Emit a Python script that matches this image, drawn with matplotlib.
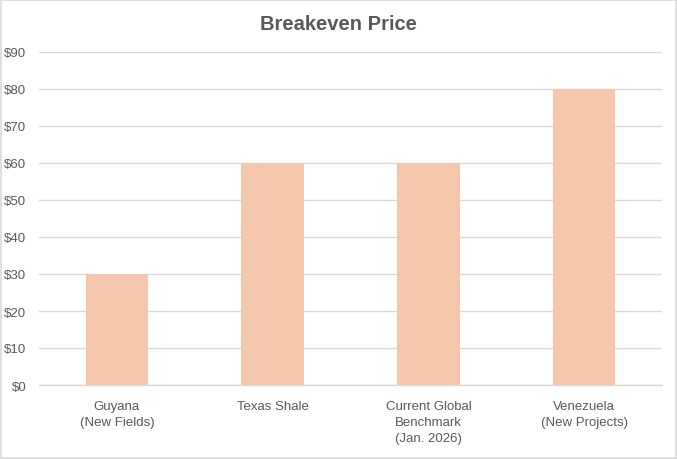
import numpy as np
import matplotlib.pyplot as plt
from matplotlib.patches import Rectangle

# chart data
categories = ['Guyana\n(New Fields)', 'Texas Shale', 'Current Global\nBenchmark\n(Jan. 2026)', 'Venezuela\n(New Projects)']
prices = [30, 60, 60, 80]
yticks = [0, 10, 20, 30, 40, 50, 60, 70, 80, 90]

plt.rcParams['font.family'] = ['Liberation Sans Narrow', 'Liberation Sans', 'DejaVu Sans']
text_color = '#595959'
grid_color = '#D9D9D9'

fig = plt.figure(figsize=(6.77, 4.60), dpi=100)
ax = fig.add_axes([39 / 677, 1 - 386 / 460, 623 / 677, 333 / 460])

x = np.arange(len(categories))
ax.bar(x, prices, width=0.4, color='#F4C7AD', zorder=3)
ax.set_xlim(-0.5, len(categories) - 0.5)
ax.set_ylim(0, 90)

ax.set_yticks(yticks)
ax.set_yticklabels([f'${v}' for v in yticks])
ax.set_xticks(x)
ax.set_xticklabels(categories, linespacing=1.45)
ax.tick_params(axis='both', length=0, labelsize=9.5, colors=text_color)
ax.tick_params(axis='y', pad=9)
ax.tick_params(axis='x', pad=11)

ax.grid(axis='y', color=grid_color, linewidth=1, zorder=0)
for side in ['top', 'right', 'left']:
    ax.spines[side].set_visible(False)
ax.spines['bottom'].set_color(grid_color)
ax.spines['bottom'].set_linewidth(1)

fig.text(0.5, 1 - 24 / 460, 'Breakeven Price', ha='center', va='center',
         fontsize=14.5, fontweight='bold', color=text_color)

# light chart border
fig.patches.append(Rectangle((0.001, 0.002), 0.997, 0.996, transform=fig.transFigure,
                             fill=False, edgecolor=grid_color, linewidth=1.2))

fig.savefig('out.png', dpi=100)
